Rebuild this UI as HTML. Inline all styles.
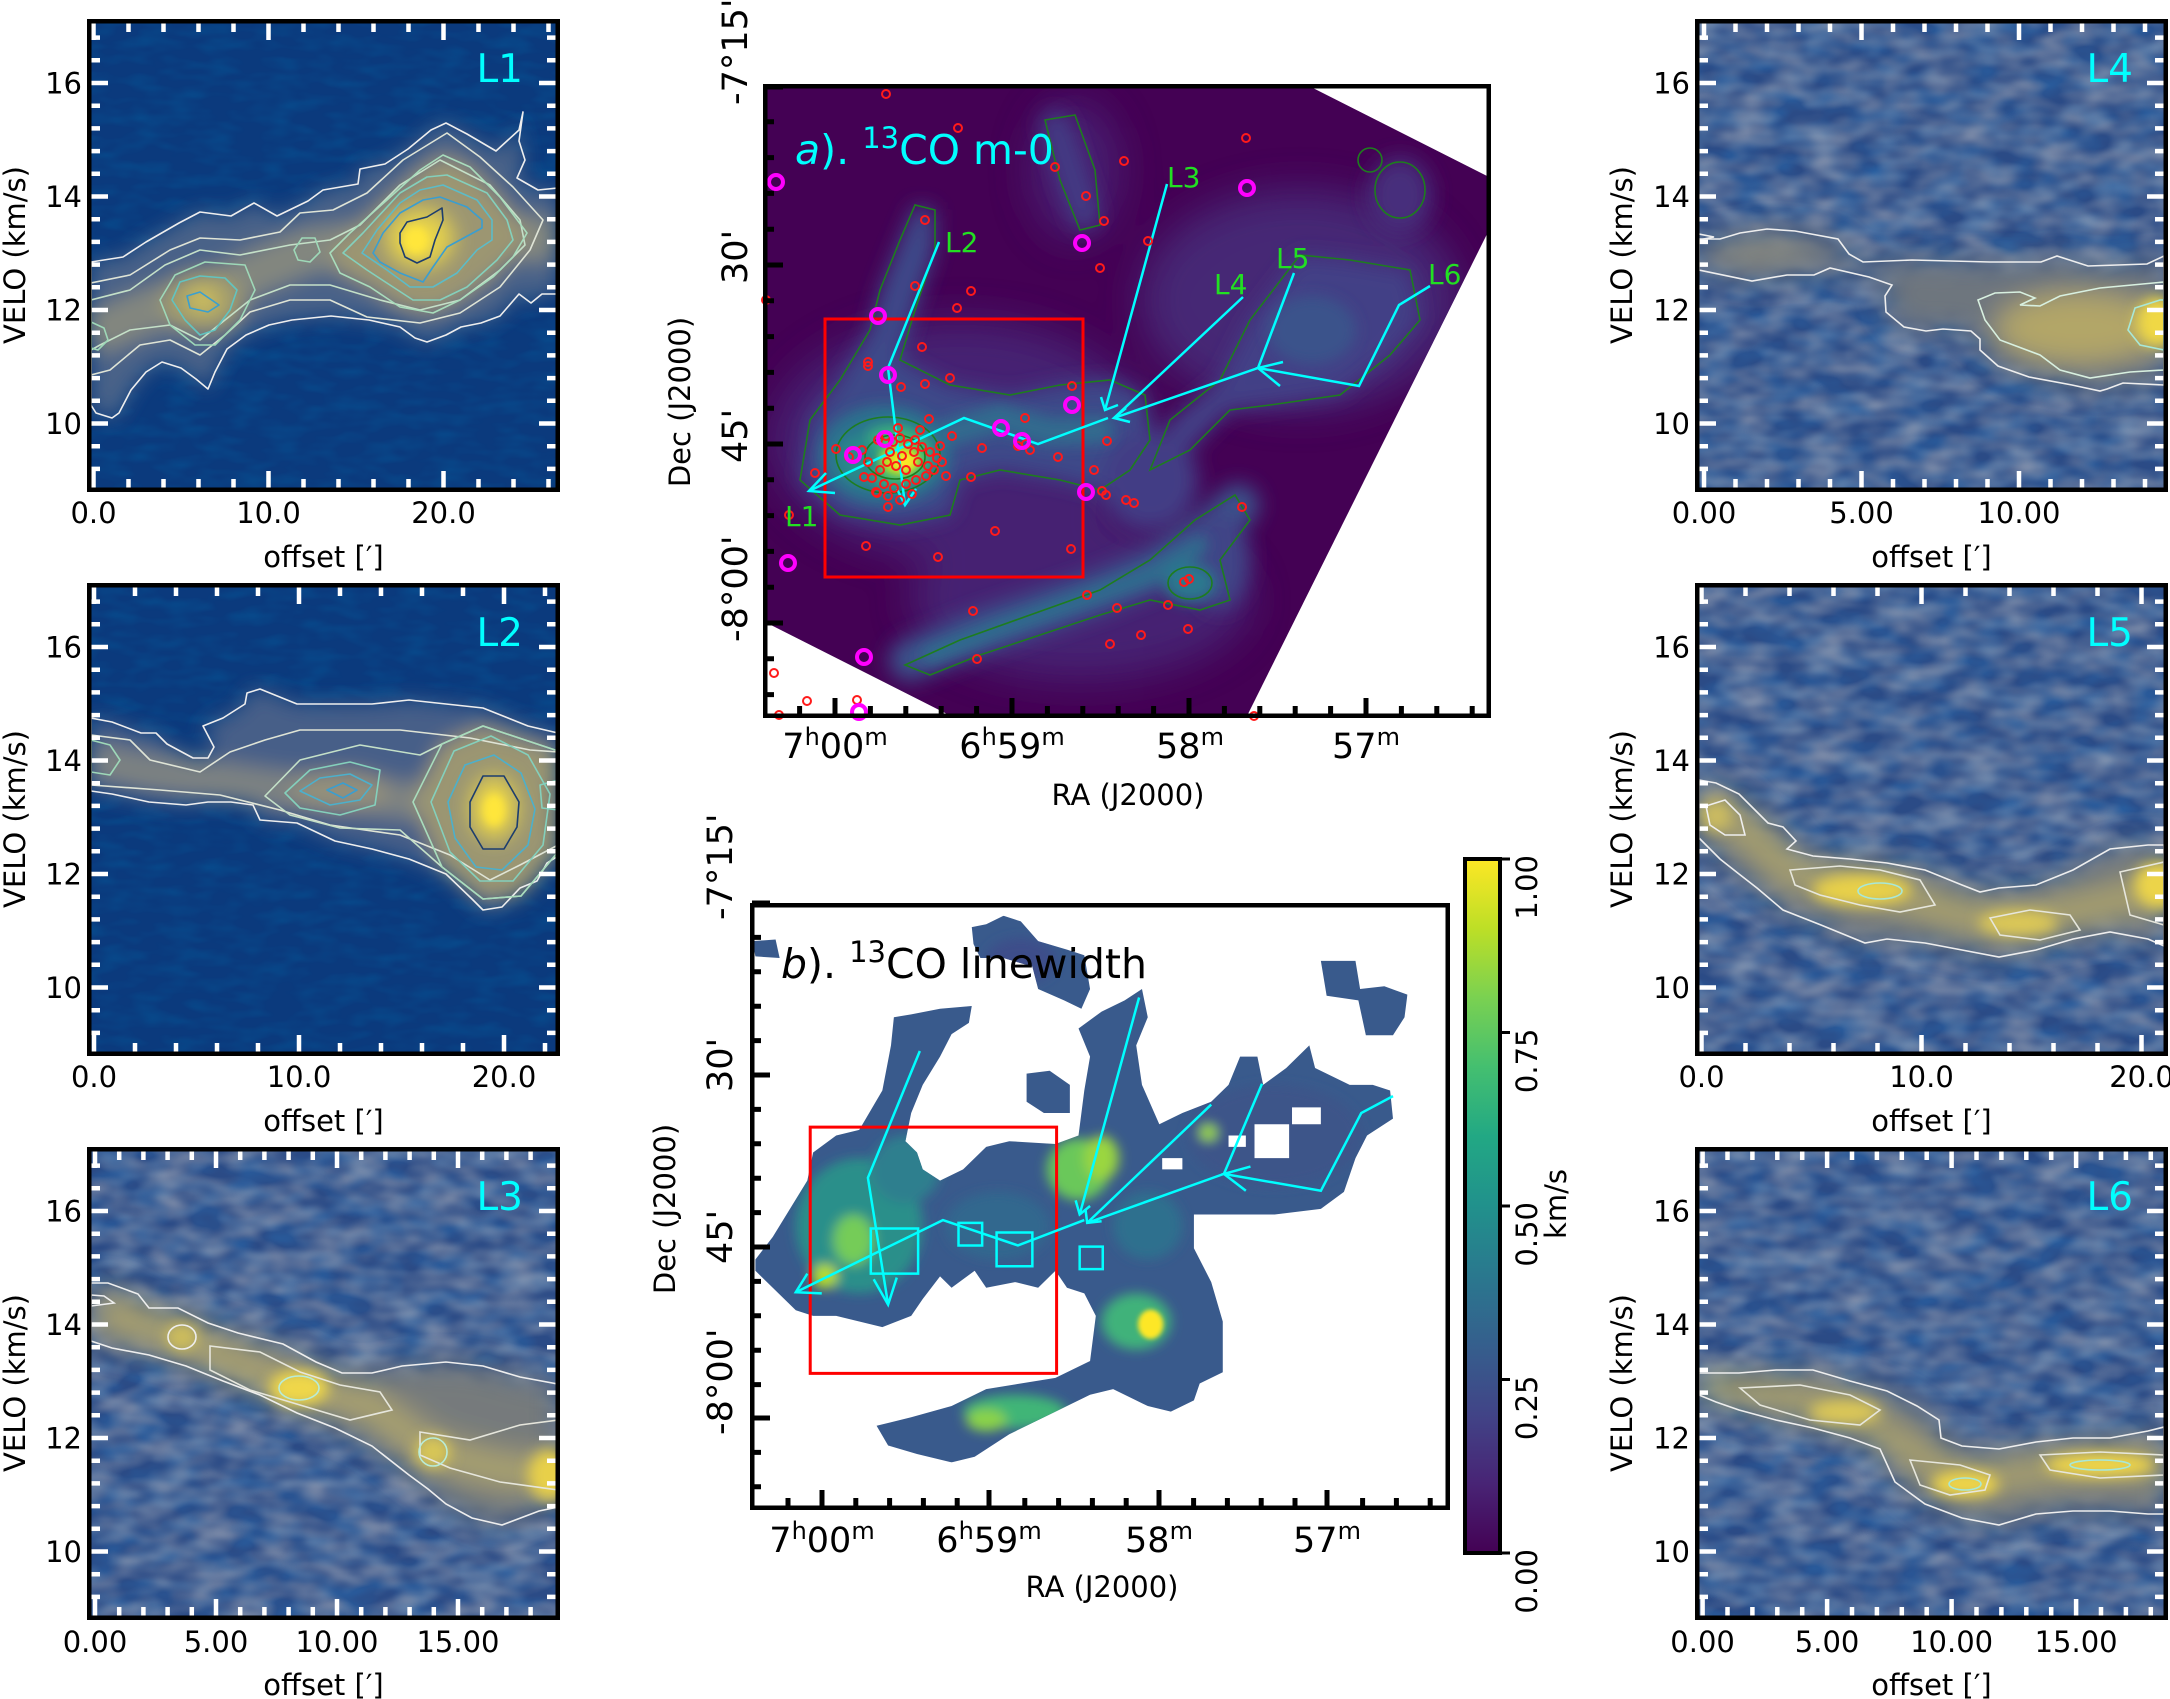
<!DOCTYPE html>
<html><head><meta charset="utf-8"><style>html,body{margin:0;padding:0;background:#fff}svg{display:block}</style></head>
<body>
<svg width="2170" height="1699" viewBox="0 0 2170 1699" xmlns="http://www.w3.org/2000/svg" xmlns:xlink="http://www.w3.org/1999/xlink" font-family="'DejaVu Sans','Liberation Sans',sans-serif">
<defs>
<filter id="bl4" x="-50%" y="-50%" width="200%" height="200%"><feGaussianBlur stdDeviation="4"/></filter>
<filter id="bl7" x="-50%" y="-50%" width="200%" height="200%"><feGaussianBlur stdDeviation="7"/></filter>
<filter id="bl10" x="-50%" y="-50%" width="200%" height="200%"><feGaussianBlur stdDeviation="10"/></filter>
<filter id="bl14" x="-50%" y="-50%" width="200%" height="200%"><feGaussianBlur stdDeviation="14"/></filter>
<filter id="bl20" x="-50%" y="-50%" width="200%" height="200%"><feGaussianBlur stdDeviation="20"/></filter>
<filter id="nz" x="0" y="0" width="1" height="1"><feTurbulence type="fractalNoise" baseFrequency="0.026 0.048" numOctaves="2" seed="7" result="t"/><feColorMatrix in="t" type="matrix" values="0 0 0 0 0.40  0 0 0 0 0.43  0 0 0 0 0.50  1.1 0 0 0 -0.33"/></filter>
<filter id="nzd" x="0" y="0" width="1" height="1"><feTurbulence type="fractalNoise" baseFrequency="0.03 0.055" numOctaves="2" seed="11" result="t"/><feColorMatrix in="t" type="matrix" values="0 0 0 0 0.02  0 0 0 0 0.14  0 0 0 0 0.42  1.1 0 0 0 -0.38"/></filter>
<filter id="nz2" x="0" y="0" width="1" height="1"><feTurbulence type="fractalNoise" baseFrequency="0.03 0.08" numOctaves="2" seed="3" result="t"/><feColorMatrix in="t" type="matrix" values="0 0 0 0 0.0  0 0 0 0 0.16  0 0 0 0 0.42  1.4 0 0 0 -0.55"/></filter>
<linearGradient id="vir" x1="0" y1="1" x2="0" y2="0">
<stop offset="0" stop-color="#440154"/><stop offset="0.1" stop-color="#482475"/><stop offset="0.2" stop-color="#414487"/><stop offset="0.3" stop-color="#355f8d"/><stop offset="0.4" stop-color="#2a788e"/><stop offset="0.5" stop-color="#21918c"/><stop offset="0.6" stop-color="#22a884"/><stop offset="0.7" stop-color="#44bf70"/><stop offset="0.8" stop-color="#7ad151"/><stop offset="0.9" stop-color="#bddf26"/><stop offset="1" stop-color="#fde725"/>
</linearGradient>
<clipPath id="c1"><rect x="91" y="23" width="465" height="465"/></clipPath>
<clipPath id="c2"><rect x="91" y="587" width="465" height="465"/></clipPath>
<clipPath id="c3"><rect x="91" y="1151" width="465" height="465"/></clipPath>
<clipPath id="c4"><rect x="1699" y="23" width="465" height="465"/></clipPath>
<clipPath id="c5"><rect x="1699" y="587" width="465" height="465"/></clipPath>
<clipPath id="c6"><rect x="1699" y="1151" width="465" height="465"/></clipPath>
<clipPath id="ca"><polygon points="763,84 1305,84 1491,178 1491,226 1246,718 955,718 763,621"/></clipPath>
<clipPath id="cbd">
<polygon points="200,780 230,740 260,690 290,640 300,590 340,560 380,550 420,480 435,400 440,350 470,345 520,335 575,330 570,360 540,380 520,420 490,470 470,520 460,570 480,590 490,620 520,640 560,620 600,580 640,570 720,575 760,560 770,480 780,420 760,370 800,340 840,320 870,300 880,350 860,400 870,470 900,540 940,520 990,500 1020,470 1040,420 1070,420 1080,470 1120,440 1160,400 1170,440 1230,470 1270,470 1300,480 1305,530 1260,560 1240,600 1220,660 1180,690 1100,700 1030,700 960,700 960,760 990,820 1010,890 1010,980 970,1000 960,1030 920,1050 880,1040 820,1010 780,1020 700,1060 640,1090 580,1130 540,1140 480,1125 430,1110 410,1075 470,1060 540,1040 600,1010 660,1000 720,990 780,960 790,880 770,840 740,830 720,800 690,830 650,820 600,830 580,800 540,830 520,810 490,850 470,880 420,900 380,890 340,880 300,880 270,870 230,830 200,800"/>
<polygon points="575,190 600,185 630,170 660,180 690,215 740,230 770,240 780,300 765,335 735,320 690,300 680,260 630,245 590,245 578,220"/>
<polygon points="670,450 710,445 745,470 745,520 700,520 670,500"/>
<polygon points="1180,250 1240,250 1248,300 1290,295 1330,310 1325,350 1305,382 1258,382 1245,320 1190,312"/>
<polygon points="195,215 235,212 242,245 200,242"/>
</clipPath>
<path id="ytk" d="M4 18.6h9M4 41.3h9M4 64h17M4 86.7h9M4 109.4h9M4 132.1h9M4 154.8h9M4 177.5h17M4 200.2h9M4 222.9h9M4 245.6h9M4 268.3h9M4 291h17M4 313.7h9M4 336.4h9M4 359.1h9M4 381.8h9M4 404.5h17M4 427.2h9M4 449.9h9M469 18.6h-9M469 41.3h-9M469 64h-17M469 86.7h-9M469 109.4h-9M469 132.1h-9M469 154.8h-9M469 177.5h-17M469 200.2h-9M469 222.9h-9M469 245.6h-9M469 268.3h-9M469 291h-17M469 313.7h-9M469 336.4h-9M469 359.1h-9M469 381.8h-9M469 404.5h-17M469 427.2h-9M469 449.9h-9" stroke="#fff" stroke-width="4.5" fill="none"/>
</defs>

<rect width="2170" height="1699" fill="#fff"/>

<!-- ================= L1 ================= -->
<g clip-path="url(#c1)">
<rect x="87" y="19" width="473" height="473" fill="#0b3a7d"/>
<rect x="87" y="19" width="473" height="473" filter="url(#nz2)" opacity="0.4"/>
<g filter="url(#bl10)">
<polygon points="91,262 123,257 146,242 179,223 200,212 231,216 254,203 277,216 308,201 323,190 358,184 360,169 385,164 408,149 431,130 446,123 467,134 496,151 519,130 523,112 519,141 525,160 517,178 538,190 558,188 558,294 542,294 531,303 519,294 500,316 481,323 461,327 446,335 427,342 415,338 400,327 369,320 331,316 292,320 269,325 246,335 227,349 215,372 208,389 196,379 181,368 162,362 146,372 131,390 119,413 112,418 96,413 91,405" fill="#4a6288"/>
<polyline points="91,335 150,310 200,300 260,270 310,250 360,245 420,240 480,235 556,240" fill="none" stroke="#83877f" stroke-width="44" stroke-linejoin="round"/>
<polygon points="330,253 350,233 387,200 420,170 443,155 470,167 500,197 527,233 513,257 493,277 460,300 433,313 400,307 370,287 340,273" fill="#9c9672"/>
<ellipse cx="203" cy="302" rx="40" ry="30" fill="#a39d6c"/>
</g>
<g filter="url(#bl10)">
<ellipse cx="420" cy="238" rx="34" ry="30" fill="#e6d24c"/>
<ellipse cx="203" cy="300" rx="16" ry="12" fill="#d6c45a"/>
</g>
<ellipse cx="416" cy="240" rx="13" ry="14" fill="#ffe63a" filter="url(#bl4)"/>
<g fill="none" stroke-width="1.6" stroke-linejoin="round">
<polygon points="91,262 123,257 146,242 179,223 200,212 231,216 254,203 277,216 308,201 323,190 358,184 360,169 385,164 408,149 431,130 446,123 467,134 496,151 519,130 523,112 519,141 525,160 517,178 538,190 558,188 558,294 542,294 531,303 519,294 500,316 481,323 461,327 446,335 427,342 415,338 400,327 369,320 331,316 292,320 269,325 246,335 227,349 215,372 208,389 196,379 181,368 162,362 146,372 131,390 119,413 112,418 96,413 91,405" stroke="#eeeeee"/>
<polygon points="91,283 130,275 170,250 200,238 240,240 280,232 300,213 333,210 367,193 403,160 447,133 480,157 513,187 543,220 530,250 500,287 460,313 420,323 367,317 330,300 290,300 250,312 225,335 200,355 170,340 140,345 110,370 91,375" stroke="#dfe4d6"/>
<polygon points="91,300 130,290 165,265 200,250 240,255 290,245 330,240 360,225 400,185 440,160 490,185 520,220 525,245 500,270 460,300 420,310 380,300 330,285 290,285 250,300 225,320 200,340 170,325 130,330 100,345 91,350" stroke="#c4e0c8"/>
<polygon points="330,253 350,233 387,200 420,170 443,155 470,167 500,197 527,233 513,257 493,277 460,300 433,313 400,307 370,287 340,273" stroke="#a8dcbc"/>
<polygon points="343,253 363,233 400,193 427,177 447,175 487,193 507,220 513,240 497,260 467,287 440,300 413,300 393,287 367,270" stroke="#84d0bc"/>
<polygon points="362,253 377,230 400,203 420,190 443,185 477,200 492,220 492,240 477,250 457,273 433,287 410,287 387,270" stroke="#5cbcc8"/>
<polygon points="373,253 383,233 400,213 423,200 440,197 467,207 482,220 482,228 460,240 447,247 433,267 423,282 400,273 380,262" stroke="#3a9ed0"/>
<polygon points="400,233 407,222 427,217 442,208 443,220 435,240 430,257 417,263 405,257 400,243" stroke="#1c3d6e"/>
<polygon points="160,300 175,275 205,262 245,265 255,290 240,320 215,345 195,345 170,325" stroke="#9ed8b8"/>
<polygon points="172,300 180,282 200,276 225,278 237,290 230,310 215,330 200,335 185,320" stroke="#62c4c0"/>
<polygon points="187,296 200,292 219,305 208,312 190,308" stroke="#3aa0d0"/>
<polygon points="294,250 302,238 315,238 320,252 310,262 298,260" stroke="#9ed8b8"/>
<polygon points="91,322 104,328 108,340 98,350 91,348" stroke="#9ed8b8"/>
</g>
</g>
<use xlink:href="#ytk" x="87" y="19"/>
<path transform="translate(87,19)" stroke="#fff" stroke-width="4.5" fill="none" d="M6.5 4v17M41.5 4v9M76.5 4v9M111.5 4v9M146.5 4v9M181.5 4v17M216.5 4v9M251.5 4v9M286.5 4v9M321.5 4v9M356.5 4v17M391.5 4v9M426.5 4v9M461.5 4v9M6.5 469v-17M41.5 469v-9M76.5 469v-9M111.5 469v-9M146.5 469v-9M181.5 469v-17M216.5 469v-9M251.5 469v-9M286.5 469v-9M321.5 469v-9M356.5 469v-17M391.5 469v-9M426.5 469v-9M461.5 469v-9"/>
<rect x="89.25" y="21.25" width="468.5" height="468.5" fill="none" stroke="#000" stroke-width="4.5"/>
<text x="523" y="82" text-anchor="end" font-size="39" fill="#00ffff">L1</text>

<!-- ================= L2 ================= -->
<g clip-path="url(#c2)">
<rect x="87" y="583" width="473" height="473" fill="#0b3a7d"/>
<rect x="87" y="583" width="473" height="473" filter="url(#nz2)" opacity="0.4"/>
<g filter="url(#bl10)">
<polygon points="91,718 112,722 141,733 156,733 167,744 193,758 208,758 214,747 203,726 223,718 245,704 247,693 260,689 297,704 335,704 372,704 409,700 446,704 483,708 528,726 558,733 558,856 547,863 537,881 520,888 502,907 483,910 472,899 446,874 409,859 372,849 335,841 297,823 260,820 253,805 231,802 208,802 186,805 149,802 112,794 91,791" fill="#475f88"/>
<polyline points="91,760 150,772 220,780 290,790 343,791 400,800 495,805 558,798" fill="none" stroke="#7d8282" stroke-width="36" stroke-linejoin="round"/>
<polygon points="413,802 442,744 483,726 558,751 558,852 521,896 483,899 442,867" fill="#9b9672"/>
<ellipse cx="340" cy="791" rx="50" ry="20" fill="#94917a"/>
</g>
<g filter="url(#bl10)">
<ellipse cx="494" cy="808" rx="24" ry="32" fill="#e6d24c"/>
</g>
<ellipse cx="494" cy="810" rx="11" ry="16" fill="#ffe63a" filter="url(#bl4)"/>
<g fill="none" stroke-width="1.6" stroke-linejoin="round">
<polygon points="91,718 112,722 141,733 156,733 167,744 193,758 208,758 214,747 203,726 223,718 245,704 247,693 260,689 297,704 335,704 372,704 409,700 446,704 483,708 528,726 558,733 558,856 547,863 537,881 520,888 502,907 483,910 472,899 446,874 409,859 372,849 335,841 297,823 260,820 253,805 231,802 208,802 186,805 149,802 112,794 91,791" stroke="#eeeeee"/>
<polygon points="91,735 130,740 150,760 200,772 230,752 265,740 300,730 400,730 470,738 530,750 558,752 558,845 520,865 490,880 450,855 400,835 330,825 280,810 220,795 160,790 91,785" stroke="#dfe4d6"/>
<polygon points="265,796 300,760 360,745 420,755 442,744 483,726 558,751 558,852 521,896 483,899 442,867 400,830 340,828 290,815" stroke="#c4e0c8"/>
<polygon points="413,802 442,744 483,726 558,751 558,852 521,896 483,899 442,867" stroke="#a8dcbc"/>
<polygon points="431,802 454,751 491,736 528,755 550,794 543,845 513,881 480,881 450,852" stroke="#84d0bc"/>
<polygon points="448,802 465,765 494,755 521,773 535,809 528,845 502,870 476,867 455,838" stroke="#4cb0cc"/>
<polygon points="470,802 483,776 504,776 519,802 517,827 504,849 483,849 470,827" stroke="#1c3d6e"/>
<polygon points="285,793 310,770 350,762 380,770 375,805 340,815 300,808" stroke="#84d0bc"/>
<polygon points="300,791 320,778 350,774 372,785 360,800 330,805" stroke="#4cb0cc"/>
<polygon points="327,790 343,783 357,790 343,798" stroke="#3a9ed0"/>
<polygon points="91,740 110,745 120,760 110,775 91,772" stroke="#9ed8b8"/>
<polygon points="540,785 558,780 558,810 542,808" stroke="#84d0bc"/>
</g>
</g>
<use xlink:href="#ytk" x="87" y="583"/>
<path transform="translate(87,583)" stroke="#fff" stroke-width="4.5" fill="none" d="M7 4v17M48 4v9M89 4v9M130 4v9M171 4v9M212 4v17M253 4v9M294 4v9M335 4v9M376 4v9M417 4v17M458 4v9M7 469v-17M48 469v-9M89 469v-9M130 469v-9M171 469v-9M212 469v-17M253 469v-9M294 469v-9M335 469v-9M376 469v-9M417 469v-17M458 469v-9"/>
<rect x="89.25" y="585.25" width="468.5" height="468.5" fill="none" stroke="#000" stroke-width="4.5"/>
<text x="523" y="646" text-anchor="end" font-size="39" fill="#00ffff">L2</text>

<!-- ================= L3 ================= -->
<g clip-path="url(#c3)">
<rect x="87" y="1147" width="473" height="473" fill="#2b4b86"/>
<rect x="87" y="1147" width="473" height="473" filter="url(#nzd)"/>
<rect x="87" y="1147" width="473" height="473" filter="url(#nz)"/>
<g filter="url(#bl14)">
<polygon points="91,1283 108,1283 138,1294 149,1308 178,1308 208,1323 238,1333 283,1344 316,1362 342,1373 372,1373 402,1366 446,1362 483,1366 520,1377 558,1384 558,1507 539,1511 502,1525 472,1518 446,1504 428,1489 409,1475 372,1446 335,1428 297,1413 260,1395 223,1381 186,1366 149,1355 112,1348 91,1341" fill="#767a7c"/>
<polyline points="100,1310 182,1337 250,1370 299,1388 364,1402 433,1452 500,1470 558,1475" fill="none" stroke="#aaa26e" stroke-width="34" stroke-linejoin="round"/>
</g>
<g filter="url(#bl7)">
<ellipse cx="299" cy="1388" rx="30" ry="18" fill="#efd748"/>
<ellipse cx="550" cy="1475" rx="22" ry="26" fill="#e8d048"/>
<ellipse cx="433" cy="1452" rx="18" ry="16" fill="#d8c656"/>
<ellipse cx="182" cy="1337" rx="16" ry="14" fill="#cdbd5c"/>
</g>
<g fill="none" stroke-width="1.6">
<polygon points="91,1283 108,1283 138,1294 149,1308 178,1308 208,1323 238,1333 283,1344 316,1362 342,1373 372,1373 402,1366 446,1362 483,1366 520,1377 558,1384 558,1507 539,1511 502,1525 472,1518 446,1504 428,1489 409,1475 372,1446 335,1428 297,1413 260,1395 223,1381 186,1366 149,1355 112,1348 91,1341" stroke="#eeeeee"/>
<polygon points="210,1346 260,1352 300,1372 340,1385 380,1392 392,1410 350,1420 300,1405 250,1390 210,1370" stroke="#e6e6dc"/>
<polygon points="420,1432 470,1440 520,1425 558,1420 558,1490 500,1482 450,1468 420,1455" stroke="#e6e6dc"/>
<ellipse cx="299" cy="1388" rx="20" ry="12" stroke="#b8ecd8"/>
<ellipse cx="182" cy="1337" rx="14" ry="12" stroke="#eeeeee"/>
<ellipse cx="433" cy="1452" rx="14" ry="14" stroke="#b8ecd8"/>
<polygon points="91,1295 104,1296 114,1303 91,1306" stroke="#eeeeee"/>
</g>
</g>
<use xlink:href="#ytk" x="87" y="1147"/>
<path transform="translate(87,1147)" stroke="#fff" stroke-width="4.5" fill="none" d="M8 4v17M32.2 4v9M56.4 4v9M80.6 4v9M104.8 4v9M129 4v17M153.2 4v9M177.4 4v9M201.6 4v9M225.8 4v9M250 4v17M274.2 4v9M298.4 4v9M322.6 4v9M346.8 4v9M371 4v17M395.2 4v9M419.4 4v9M443.6 4v9M8 469v-17M32.2 469v-9M56.4 469v-9M80.6 469v-9M104.8 469v-9M129 469v-17M153.2 469v-9M177.4 469v-9M201.6 469v-9M225.8 469v-9M250 469v-17M274.2 469v-9M298.4 469v-9M322.6 469v-9M346.8 469v-9M371 469v-17M395.2 469v-9M419.4 469v-9M443.6 469v-9"/>
<rect x="89.25" y="1149.25" width="468.5" height="468.5" fill="none" stroke="#000" stroke-width="4.5"/>
<text x="523" y="1210" text-anchor="end" font-size="39" fill="#00ffff">L3</text>

<!-- ================= L4 ================= -->
<g clip-path="url(#c4)">
<rect x="1695" y="19" width="473" height="473" fill="#2b4b86"/>
<rect x="1695" y="19" width="473" height="473" filter="url(#nzd)"/>
<rect x="1695" y="19" width="473" height="473" filter="url(#nz)"/>
<g filter="url(#bl14)">
<polygon points="1699,239 1720,239 1740,233 1767,229 1795,231 1838,239 1849,254 1863,262 1912,260 1990,262 2041,262 2057,256 2088,266 2147,264 2164,256 2164,385 2123,383 2107,389 2100,391 2072,385 2029,377 1998,366 1980,350 1980,339 1971,331 1943,329 1926,331 1904,327 1886,312 1885,296 1892,285 1869,277 1830,268 1814,275 1787,275 1752,281 1699,270" fill="#6e767e"/>
<ellipse cx="1763" cy="252" rx="50" ry="16" fill="#86877f"/>
<ellipse cx="2080" cy="328" rx="85" ry="36" fill="#b2a668"/>
</g>
<ellipse cx="2158" cy="322" rx="22" ry="26" fill="#f0d844" filter="url(#bl7)"/>
<g fill="none" stroke-width="1.6">
<polygon points="1699,239 1720,239 1740,233 1767,229 1795,231 1838,239 1849,254 1863,262 1912,260 1990,262 2041,262 2057,256 2088,266 2147,264 2164,256 2164,385 2123,383 2107,389 2100,391 2072,385 2029,377 1998,366 1980,350 1980,339 1971,331 1943,329 1926,331 1904,327 1886,312 1885,296 1892,285 1869,277 1830,268 1814,275 1787,275 1752,281 1699,270" stroke="#eeeeee"/>
<polygon points="1978,300 1995,293 2020,292 2035,298 2020,305 2040,306 2060,296 2100,288 2164,282 2164,370 2130,372 2090,378 2060,370 2040,355 2000,340 1985,320" stroke="#d8f0e0"/>
<polygon points="2135,308 2160,300 2164,300 2164,350 2140,345 2128,330" stroke="#a8e8d8"/>
<path d="M1699,234 L1714,237 L1699,240" stroke="#eeeeee"/>
</g>
</g>
<use xlink:href="#ytk" x="1695" y="19"/>
<path transform="translate(1695,19)" stroke="#fff" stroke-width="4.5" fill="none" d="M9 4v17M40.5 4v9M72 4v9M103.5 4v9M135 4v9M166.5 4v17M198 4v9M229.5 4v9M261 4v9M292.5 4v9M324 4v17M355.5 4v9M387 4v9M418.5 4v9M450 4v9M9 469v-17M40.5 469v-9M72 469v-9M103.5 469v-9M135 469v-9M166.5 469v-17M198 469v-9M229.5 469v-9M261 469v-9M292.5 469v-9M324 469v-17M355.5 469v-9M387 469v-9M418.5 469v-9M450 469v-9"/>
<rect x="1697.25" y="21.25" width="468.5" height="468.5" fill="none" stroke="#000" stroke-width="4.5"/>
<text x="2133" y="82" text-anchor="end" font-size="39" fill="#00ffff">L4</text>

<!-- ================= L5 ================= -->
<g clip-path="url(#c5)">
<rect x="1695" y="583" width="473" height="473" fill="#2b4b86"/>
<rect x="1695" y="583" width="473" height="473" filter="url(#nzd)"/>
<rect x="1695" y="583" width="473" height="473" filter="url(#nz)"/>
<g filter="url(#bl14)">
<polygon points="1699,780 1716,783 1739,794 1754,809 1768,823 1783,827 1796,841 1787,849 1813,856 1850,859 1887,863 1925,870 1962,885 1980,892 1999,888 2036,885 2073,870 2110,849 2148,845 2164,845 2164,946 2148,939 2110,932 2073,939 2036,950 1999,957 1962,950 1925,943 1887,939 1865,943 1821,925 1783,910 1757,888 1739,874 1720,859 1699,838" fill="#767a7c"/>
<polyline points="1700,805 1740,825 1790,872 1880,890 1960,915 2018,922 2100,905 2166,888" fill="none" stroke="#aaa26c" stroke-width="30" stroke-linejoin="round"/>
</g>
<g filter="url(#bl7)">
<ellipse cx="1862" cy="890" rx="50" ry="16" fill="#e8d04a"/>
<ellipse cx="2018" cy="923" rx="40" ry="13" fill="#dcc856"/>
<ellipse cx="2160" cy="885" rx="26" ry="24" fill="#ecd448"/>
<ellipse cx="1716" cy="816" rx="16" ry="16" fill="#cbbb60"/>
</g>
<g fill="none" stroke-width="1.6">
<polygon points="1699,780 1716,783 1739,794 1754,809 1768,823 1783,827 1796,841 1787,849 1813,856 1850,859 1887,863 1925,870 1962,885 1980,892 1999,888 2036,885 2073,870 2110,849 2148,845 2164,845 2164,946 2148,939 2110,932 2073,939 2036,950 1999,957 1962,950 1925,943 1887,939 1865,943 1821,925 1783,910 1757,888 1739,874 1720,859 1699,838" stroke="#eeeeee"/>
<polygon points="1790,870 1840,866 1880,870 1920,880 1935,905 1900,912 1860,905 1820,895 1795,885" stroke="#e6e6dc"/>
<polygon points="1990,918 2030,910 2070,915 2080,930 2040,940 2000,935" stroke="#e6e6dc"/>
<polygon points="2120,872 2164,862 2164,925 2130,915" stroke="#e6e6dc"/>
<polygon points="1706,806 1725,800 1740,815 1745,835 1725,835 1710,825" stroke="#eeeeee"/>
<ellipse cx="1880" cy="891" rx="22" ry="8" stroke="#a8e8d8"/>
</g>
</g>
<use xlink:href="#ytk" x="1695" y="583"/>
<path transform="translate(1695,583)" stroke="#fff" stroke-width="4.5" fill="none" d="M6.5 4v17M50.5 4v9M94.5 4v9M138.5 4v9M182.5 4v9M226.5 4v17M270.5 4v9M314.5 4v9M358.5 4v9M402.5 4v9M446.5 4v17M6.5 469v-17M50.5 469v-9M94.5 469v-9M138.5 469v-9M182.5 469v-9M226.5 469v-17M270.5 469v-9M314.5 469v-9M358.5 469v-9M402.5 469v-9M446.5 469v-17"/>
<rect x="1697.25" y="585.25" width="468.5" height="468.5" fill="none" stroke="#000" stroke-width="4.5"/>
<text x="2133" y="646" text-anchor="end" font-size="39" fill="#00ffff">L5</text>

<!-- ================= L6 ================= -->
<g clip-path="url(#c6)">
<rect x="1695" y="1147" width="473" height="473" fill="#2b4b86"/>
<rect x="1695" y="1147" width="473" height="473" filter="url(#nzd)"/>
<rect x="1695" y="1147" width="473" height="473" filter="url(#nz)"/>
<g filter="url(#bl14)">
<polygon points="1699,1373 1739,1373 1776,1370 1813,1370 1850,1381 1887,1391 1917,1406 1939,1420 1941,1438 1962,1446 1999,1449 2036,1442 2073,1438 2110,1438 2148,1431 2164,1427 2164,1514 2148,1514 2110,1511 2073,1511 2036,1514 1999,1525 1962,1518 1925,1504 1895,1482 1880,1449 1850,1438 1813,1428 1776,1420 1739,1410 1716,1402 1699,1395" fill="#767a7c"/>
<polyline points="1700,1385 1760,1393 1847,1410 1910,1450 1965,1483 2040,1470 2099,1465 2166,1466" fill="none" stroke="#aaa26c" stroke-width="28" stroke-linejoin="round"/>
</g>
<g filter="url(#bl7)">
<ellipse cx="1845" cy="1412" rx="36" ry="12" fill="#dcc856"/>
<ellipse cx="1965" cy="1484" rx="34" ry="13" fill="#f0d646"/>
<ellipse cx="2100" cy="1465" rx="55" ry="12" fill="#f0d646"/>
</g>
<g fill="none" stroke-width="1.6">
<polygon points="1699,1373 1739,1373 1776,1370 1813,1370 1850,1381 1887,1391 1917,1406 1939,1420 1941,1438 1962,1446 1999,1449 2036,1442 2073,1438 2110,1438 2148,1431 2164,1427 2164,1514 2148,1514 2110,1511 2073,1511 2036,1514 1999,1525 1962,1518 1925,1504 1895,1482 1880,1449 1850,1438 1813,1428 1776,1420 1739,1410 1716,1402 1699,1395" stroke="#eeeeee"/>
<polygon points="1740,1388 1800,1385 1850,1395 1880,1410 1860,1425 1810,1420 1760,1405" stroke="#e6e6dc"/>
<polygon points="1910,1460 1960,1465 1990,1475 1985,1490 1950,1495 1920,1485" stroke="#e6e6dc"/>
<polygon points="2040,1455 2100,1452 2164,1455 2164,1475 2100,1478 2050,1470" stroke="#e6e6dc"/>
<ellipse cx="1965" cy="1484" rx="16" ry="6" stroke="#a8e8d8"/>
<ellipse cx="2100" cy="1465" rx="30" ry="5" stroke="#a8e8d8"/>
</g>
</g>
<use xlink:href="#ytk" x="1695" y="1147"/>
<path transform="translate(1695,1147)" stroke="#fff" stroke-width="4.5" fill="none" d="M7.6 4v17M32.5 4v9M57.4 4v9M82.3 4v9M107.2 4v9M132.1 4v17M157 4v9M181.9 4v9M206.8 4v9M231.7 4v9M256.6 4v17M281.5 4v9M306.4 4v9M331.3 4v9M356.2 4v9M381.1 4v17M406 4v9M430.9 4v9M455.8 4v9M7.6 469v-17M32.5 469v-9M57.4 469v-9M82.3 469v-9M107.2 469v-9M132.1 469v-17M157 469v-9M181.9 469v-9M206.8 469v-9M231.7 469v-9M256.6 469v-17M281.5 469v-9M306.4 469v-9M331.3 469v-9M356.2 469v-9M381.1 469v-17M406 469v-9M430.9 469v-9M455.8 469v-9"/>
<rect x="1697.25" y="1149.25" width="468.5" height="468.5" fill="none" stroke="#000" stroke-width="4.5"/>
<text x="2133" y="1210" text-anchor="end" font-size="39" fill="#00ffff">L6</text>

<!-- PV axis text -->
<g font-size="29" fill="#000">
<g text-anchor="end">
<text x="82" y="93.5">16</text><text x="82" y="207">14</text><text x="82" y="320.5">12</text><text x="82" y="434">10</text>
<text x="82" y="657.5">16</text><text x="82" y="771">14</text><text x="82" y="884.5">12</text><text x="82" y="998">10</text>
<text x="82" y="1221.5">16</text><text x="82" y="1335">14</text><text x="82" y="1448.5">12</text><text x="82" y="1562">10</text>
<text x="1690" y="93.5">16</text><text x="1690" y="207">14</text><text x="1690" y="320.5">12</text><text x="1690" y="434">10</text>
<text x="1690" y="657.5">16</text><text x="1690" y="771">14</text><text x="1690" y="884.5">12</text><text x="1690" y="998">10</text>
<text x="1690" y="1221.5">16</text><text x="1690" y="1335">14</text><text x="1690" y="1448.5">12</text><text x="1690" y="1562">10</text>
</g>
<g text-anchor="middle">
<text x="93.5" y="523">0.0</text><text x="268.5" y="523">10.0</text><text x="443.5" y="523">20.0</text>
<text x="94" y="1087">0.0</text><text x="299" y="1087">10.0</text><text x="504" y="1087">20.0</text>
<text x="95" y="1652">0.00</text><text x="216" y="1652">5.00</text><text x="337" y="1652">10.00</text><text x="458" y="1652">15.00</text>
<text x="1704" y="523">0.00</text><text x="1861.5" y="523">5.00</text><text x="2019" y="523">10.00</text>
<text x="1701.5" y="1087">0.0</text><text x="1921.5" y="1087">10.0</text><text x="2141.5" y="1087">20.0</text>
<text x="1702.6" y="1652">0.00</text><text x="1827.1" y="1652">5.00</text><text x="1951.6" y="1652">10.00</text><text x="2076.1" y="1652">15.00</text>
<text x="323.5" y="567">offset [′]</text><text x="323.5" y="1131">offset [′]</text><text x="323.5" y="1695">offset [′]</text>
<text x="1931.5" y="567">offset [′]</text><text x="1931.5" y="1131">offset [′]</text><text x="1931.5" y="1695">offset [′]</text>
<text transform="translate(25,255) rotate(-90)">VELO (km/s)</text>
<text transform="translate(25,819) rotate(-90)">VELO (km/s)</text>
<text transform="translate(25,1383) rotate(-90)">VELO (km/s)</text>
<text transform="translate(1632,255) rotate(-90)">VELO (km/s)</text>
<text transform="translate(1632,819) rotate(-90)">VELO (km/s)</text>
<text transform="translate(1632,1383) rotate(-90)">VELO (km/s)</text>
</g>
</g>

<!-- ================= Panel a ================= -->
<g clip-path="url(#ca)">
<rect x="763" y="84" width="728" height="634" fill="#440154"/>
<g filter="url(#bl20)" opacity="0.8">
<ellipse cx="960" cy="440" rx="190" ry="120" fill="#472a7a"/>
<ellipse cx="1300" cy="300" rx="160" ry="110" fill="#46307e"/>
<ellipse cx="1080" cy="600" rx="170" ry="80" fill="#472a7a"/>
<ellipse cx="1075" cy="170" rx="45" ry="70" fill="#482878"/>
</g>
<g filter="url(#bl10)">
<polygon points="800,480 810,420 840,380 870,330 880,290 900,240 915,205 935,210 935,250 915,310 900,360 950,385 1010,395 1060,385 1110,380 1145,395 1150,440 1130,470 1100,490 1060,480 1000,470 960,480 950,515 900,525 840,515" fill="#3e4a89"/>
<polygon points="1150,470 1170,420 1220,380 1250,320 1300,255 1350,260 1410,270 1420,320 1390,355 1340,395 1270,405 1230,410 1190,450" fill="#424086"/>
<polyline points="910,660 980,632 1040,612 1100,592 1160,568 1200,540 1238,505" fill="none" stroke="#3b528b" stroke-width="42" stroke-linecap="round"/>
<polyline points="1055,125 1070,170 1085,215" fill="none" stroke="#433e85" stroke-width="28" stroke-linecap="round"/>
<ellipse cx="1400" cy="195" rx="32" ry="38" fill="#472d7b"/>
<ellipse cx="1150" cy="480" rx="48" ry="50" fill="#433e85"/>
<ellipse cx="1220" cy="560" rx="30" ry="50" fill="#414487"/>
</g>
<g filter="url(#bl7)">
<ellipse cx="885" cy="455" rx="66" ry="50" fill="#2c728e"/>
<polyline points="950,432 1000,418 1050,432 1100,430" fill="none" stroke="#306a8e" stroke-width="28" stroke-linecap="round"/>
<polyline points="930,655 1000,628 1080,600 1150,575 1200,545" fill="none" stroke="#2e6e8e" stroke-width="16" stroke-linecap="round"/>
<ellipse cx="1190" cy="583" rx="26" ry="20" fill="#2a788e"/>
<ellipse cx="893" cy="456" rx="38" ry="29" fill="#3dbc74"/>
<ellipse cx="1312" cy="330" rx="44" ry="34" fill="#3b528b"/>
<ellipse cx="860" cy="460" rx="22" ry="24" fill="#2a8a8a"/>
</g>
<g filter="url(#bl4)">
<ellipse cx="900" cy="460" rx="20" ry="15" fill="#c2df23"/>
<ellipse cx="905" cy="462" rx="11" ry="9" fill="#fde725"/>
</g>
<g fill="none" stroke="#1e7d1e" stroke-width="1.6">
<polygon points="800,480 810,420 840,380 870,330 880,290 900,240 915,205 935,210 935,250 915,310 900,360 950,385 1010,395 1060,385 1110,380 1145,395 1150,440 1130,470 1100,490 1060,480 1000,470 960,480 950,515 900,525 840,515"/>
<ellipse cx="888" cy="455" rx="52" ry="38"/>
<ellipse cx="895" cy="457" rx="30" ry="22"/>
<polygon points="905,665 960,640 1030,615 1100,590 1150,560 1195,520 1235,495 1250,520 1220,560 1230,600 1200,610 1150,600 1100,615 1040,635 980,655 930,675"/>
<polygon points="1150,470 1170,420 1220,380 1250,320 1300,255 1350,260 1410,270 1420,320 1390,355 1340,395 1270,405 1230,410 1190,450"/>
<polygon points="1045,120 1075,115 1095,170 1100,225 1080,230 1060,180"/>
<ellipse cx="1400" cy="190" rx="25" ry="28"/>
<ellipse cx="1190" cy="583" rx="22" ry="16"/>
<ellipse cx="1370" cy="160" rx="12" ry="12"/>
</g>
</g>
<!-- red rectangle a -->
<rect x="825" y="319" width="258" height="258" fill="none" stroke="#ff0000" stroke-width="3"/>
<!-- cyan lines a -->
<g fill="none" stroke="#00ffff" stroke-width="2.5">
<polyline points="1167,184 1105,410"/><polyline points="1101,397 1105,410 1118,405"/>
<polyline points="1243,297 1114,418"/>
<polyline points="1294,273 1258,368"/>
<polyline points="1430,286 1399,305 1359,386 1258,368 1114,418"/>
<polyline points="1283,362 1258,368 1280,386"/>
<polyline points="1126,408 1114,418 1130,422"/>
<polyline points="1108,418 1038,444 964,418 809,491"/>
<polyline points="826,473 809,491 835,493"/>
<polyline points="939,242 888,368 905,505"/>
<polyline points="897,489 905,505 916,489"/>
</g>
<!-- red circles a -->
<g fill="none" stroke="#ff1a1a" stroke-width="2">
<circle cx="886" cy="94" r="4"/><circle cx="958" cy="128" r="4"/><circle cx="1124" cy="161" r="4"/><circle cx="1246" cy="138" r="4"/><circle cx="1055" cy="167" r="4"/><circle cx="1086" cy="196" r="4"/><circle cx="1104" cy="221" r="4"/><circle cx="925" cy="220" r="4"/><circle cx="1148" cy="241" r="4"/><circle cx="1100" cy="268" r="4"/><circle cx="915" cy="286" r="4"/><circle cx="971" cy="291" r="4"/><circle cx="957" cy="308" r="4"/><circle cx="922" cy="347" r="4"/><circle cx="868" cy="362" r="4"/><circle cx="950" cy="378" r="4"/><circle cx="901" cy="387" r="4"/><circle cx="1072" cy="386" r="4"/><circle cx="1025" cy="418" r="4"/><circle cx="929" cy="419" r="4"/><circle cx="952" cy="436" r="4"/><circle cx="982" cy="448" r="4"/><circle cx="1058" cy="457" r="4"/><circle cx="1107" cy="441" r="4"/><circle cx="1094" cy="470" r="4"/><circle cx="971" cy="477" r="4"/><circle cx="836" cy="449" r="4"/><circle cx="849" cy="457" r="4"/><circle cx="815" cy="473" r="4"/><circle cx="864" cy="477" r="4"/><circle cx="877" cy="493" r="4"/><circle cx="888" cy="507" r="4"/><circle cx="1102" cy="491" r="4"/><circle cx="1106" cy="495" r="4"/><circle cx="1126" cy="500" r="4"/><circle cx="1134" cy="503" r="4"/><circle cx="1242" cy="507" r="4"/><circle cx="995" cy="531" r="4"/><circle cx="866" cy="546" r="4"/><circle cx="938" cy="557" r="4"/><circle cx="1071" cy="549" r="4"/><circle cx="1184" cy="582" r="4"/><circle cx="1189" cy="579" r="4"/><circle cx="1087" cy="595" r="4"/><circle cx="973" cy="611" r="4"/><circle cx="1117" cy="608" r="4"/><circle cx="1168" cy="605" r="4"/><circle cx="1188" cy="629" r="4"/><circle cx="1141" cy="635" r="4"/><circle cx="1110" cy="644" r="4"/><circle cx="977" cy="659" r="4"/><circle cx="774" cy="673" r="4"/><circle cx="807" cy="701" r="4"/><circle cx="857" cy="700" r="4"/><circle cx="779" cy="715" r="4"/><circle cx="1254" cy="716" r="4"/><circle cx="789" cy="515" r="4"/><circle cx="766" cy="300" r="4"/><circle cx="868" cy="366" r="4"/><circle cx="925" cy="384" r="4"/>
<circle cx="878" cy="440" r="4"/><circle cx="886" cy="436" r="4"/><circle cx="893" cy="442" r="4"/><circle cx="900" cy="438" r="4"/><circle cx="908" cy="444" r="4"/><circle cx="915" cy="440" r="4"/><circle cx="922" cy="447" r="4"/><circle cx="930" cy="452" r="4"/><circle cx="937" cy="458" r="4"/><circle cx="928" cy="466" r="4"/><circle cx="918" cy="462" r="4"/><circle cx="906" cy="470" r="4"/><circle cx="896" cy="466" r="4"/><circle cx="887" cy="462" r="4"/><circle cx="880" cy="470" r="4"/><circle cx="872" cy="478" r="4"/><circle cx="884" cy="484" r="4"/><circle cx="894" cy="488" r="4"/><circle cx="906" cy="484" r="4"/><circle cx="916" cy="480" r="4"/><circle cx="926" cy="476" r="4"/><circle cx="934" cy="470" r="4"/><circle cx="942" cy="462" r="4"/><circle cx="912" cy="494" r="4"/><circle cx="900" cy="500" r="4"/><circle cx="888" cy="496" r="4"/><circle cx="876" cy="492" r="4"/><circle cx="868" cy="462" r="4"/><circle cx="862" cy="450" r="4"/><circle cx="890" cy="452" r="4"/><circle cx="902" cy="456" r="4"/><circle cx="914" cy="452" r="4"/><circle cx="940" cy="446" r="4"/><circle cx="946" cy="476" r="4"/><circle cx="920" cy="430" r="4"/><circle cx="898" cy="428" r="4"/><circle cx="1018" cy="446" r="4"/><circle cx="1026" cy="444" r="4"/><circle cx="1030" cy="450" r="4"/>
</g>
<g fill="none" stroke="#ff00ff" stroke-width="4">
<circle cx="776" cy="182" r="7"/><circle cx="1247" cy="188" r="7"/><circle cx="1082" cy="243" r="7"/><circle cx="878" cy="316" r="7"/><circle cx="888" cy="375" r="7"/><circle cx="1072" cy="405" r="7"/><circle cx="885" cy="439" r="7"/><circle cx="853" cy="455" r="7"/><circle cx="1001" cy="428" r="7"/><circle cx="1022" cy="441" r="7"/><circle cx="1086" cy="492" r="7"/><circle cx="788" cy="563" r="7"/><circle cx="864" cy="657" r="7"/><circle cx="859" cy="712" r="7"/>
</g>
<!-- green labels a -->
<g font-size="28" fill="#22e022">
<text x="1167" y="187">L3</text><text x="945" y="252">L2</text><text x="1214" y="294">L4</text><text x="1276" y="268">L5</text><text x="1428" y="284">L6</text><text x="785" y="526">L1</text>
</g>
<text x="795" y="164" font-size="41" fill="#00ffff"><tspan font-style="italic">a</tspan>). <tspan font-size="29" dy="-16">13</tspan><tspan dy="16">CO m-0</tspan></text>
<!-- ticks a -->
<path stroke="#000" stroke-width="5" fill="none" d="M765 87h18M765 121.8h9M765 157.6h9M765 193.4h9M765 229.2h9M765 265h18M765 300.8h9M765 336.6h9M765 372.4h9M765 408.2h9M765 444h18M765 479.8h9M765 515.6h9M765 551.4h9M765 587.2h9M765 623h18M765 658.8h9M765 694.6h9M799.6 716v-10M835 716v-18M870.4 716v-10M905.8 716v-10M941.2 716v-10M976.6 716v-10M1012 716v-18M1047.4 716v-10M1082.8 716v-10M1118.2 716v-10M1153.6 716v-10M1189 716v-18M1224.4 716v-10M1259.8 716v-10M1295.2 716v-10M1330.6 716v-10M1366 716v-18M1401.4 716v-10M1436.8 716v-10M1472.2 716v-10"/>
<rect x="765.25" y="86.25" width="723.5" height="629.5" fill="none" stroke="#000" stroke-width="4.5"/>
<g font-size="35" fill="#000">
<text transform="translate(747,105) rotate(-90)">-7°15'</text>
<text transform="translate(747,284) rotate(-90)">30'</text>
<text transform="translate(747,463) rotate(-90)">45'</text>
<text transform="translate(747,642) rotate(-90)">-8°00'</text>
<g text-anchor="middle">
<text x="835" y="758">7<tspan font-size="24" dy="-13">h</tspan><tspan dy="13">00</tspan><tspan font-size="24" dy="-13">m</tspan></text>
<text x="1012" y="758">6<tspan font-size="24" dy="-13">h</tspan><tspan dy="13">59</tspan><tspan font-size="24" dy="-13">m</tspan></text>
<text x="1190" y="758">58<tspan font-size="24" dy="-13">m</tspan></text>
<text x="1366" y="758">57<tspan font-size="24" dy="-13">m</tspan></text>
</g>
</g>
<text x="1128" y="805" font-size="29" text-anchor="middle">RA (J2000)</text>
<text transform="translate(690,402) rotate(-90)" font-size="29" text-anchor="middle">Dec (J2000)</text>

<!-- ================= Panel b ================= -->
<g transform="translate(640,820) scale(0.577,0.5635)">
<g clip-path="url(#cbd)">
<rect x="150" y="150" width="1250" height="1050" fill="#395a8c"/>
<g filter="url(#bl10)">
<ellipse cx="380" cy="720" rx="110" ry="120" fill="#2a8f8a"/>
<ellipse cx="370" cy="745" rx="35" ry="45" fill="#74cc58"/>
<ellipse cx="320" cy="810" rx="22" ry="22" fill="#b5de2b"/>
<ellipse cx="460" cy="620" rx="60" ry="60" fill="#2f7f8e"/>
<ellipse cx="760" cy="620" rx="55" ry="55" fill="#6ac85a"/>
<ellipse cx="800" cy="600" rx="30" ry="40" fill="#9ad640"/>
<ellipse cx="860" cy="890" rx="60" ry="50" fill="#3fb27a"/>
<ellipse cx="650" cy="1050" rx="90" ry="30" fill="#41b577"/>
<ellipse cx="600" cy="1065" rx="35" ry="20" fill="#8ad348"/>
<ellipse cx="620" cy="720" rx="90" ry="60" fill="#31688e"/>
<ellipse cx="1100" cy="560" rx="150" ry="90" fill="#3c5489"/>
<ellipse cx="880" cy="720" rx="60" ry="60" fill="#2f6f8e"/>
<ellipse cx="985" cy="555" rx="15" ry="15" fill="#9ad640"/>
<ellipse cx="660" cy="250" rx="60" ry="40" fill="#3d4e8a"/>
</g>
<ellipse cx="885" cy="895" rx="22" ry="26" fill="#fde725" filter="url(#bl4)"/>
</g>
<g fill="#fff">
<polygon points="1065,540 1125,540 1125,600 1065,600"/>
<polygon points="1130,510 1180,510 1180,540 1130,540"/>
<polygon points="905,600 940,600 940,620 905,620"/>
<polygon points="1020,560 1050,560 1050,580 1020,580"/>
</g>
<polygon points="295,545 722,545 722,982 295,982" fill="none" stroke="#ff0000" stroke-width="3" vector-effect="non-scaling-stroke"/>
<g fill="none" stroke="#00ffff" stroke-width="2.5" vector-effect="non-scaling-stroke">
<polyline points="485,410 395,635 430,860" vector-effect="non-scaling-stroke"/>
<polyline points="405,815 430,860 445,812" vector-effect="non-scaling-stroke"/>
<polyline points="770,710 655,755 525,710 270,838" vector-effect="non-scaling-stroke"/>
<polyline points="290,805 270,838 315,840" vector-effect="non-scaling-stroke"/>
<polyline points="865,315 762,700" vector-effect="non-scaling-stroke"/>
<polyline points="755,675 762,700 780,685" vector-effect="non-scaling-stroke"/>
<polyline points="990,505 775,715" vector-effect="non-scaling-stroke"/>
<polyline points="772,690 775,715 800,712" vector-effect="non-scaling-stroke"/>
<polyline points="1078,468 1012,628" vector-effect="non-scaling-stroke"/>
<polyline points="1305,490 1250,520 1180,658 1012,628 775,715" vector-effect="non-scaling-stroke"/>
<polyline points="1058,615 1012,628 1050,658" vector-effect="non-scaling-stroke"/>
<rect x="400" y="725" width="82" height="80" vector-effect="non-scaling-stroke"/>
<rect x="552" y="715" width="41" height="40" vector-effect="non-scaling-stroke"/>
<rect x="618" y="732" width="62" height="60" vector-effect="non-scaling-stroke"/>
<rect x="762" y="757" width="40" height="40" vector-effect="non-scaling-stroke"/>
</g>
</g>
<path stroke="#000" stroke-width="5" fill="none" d="M752 903h18M752 937.4h9M752 971.8h9M752 1006.2h9M752 1040.6h9M752 1075h18M752 1109.4h9M752 1143.8h9M752 1178.2h9M752 1212.6h9M752 1247h18M752 1281.4h9M752 1315.8h9M752 1350.2h9M752 1384.6h9M752 1418h18M752 1452.4h9M752 1486.8h9M788 1508v-10M822 1508v-18M855.8 1508v-10M889.6 1508v-10M923.4 1508v-10M957.2 1508v-10M989 1508v-18M1024.8 1508v-10M1058.6 1508v-10M1092.4 1508v-10M1126.2 1508v-10M1159 1508v-18M1193.6 1508v-10M1227.4 1508v-10M1261.2 1508v-10M1295 1508v-10M1327 1508v-18M1362.6 1508v-10M1396.4 1508v-10M1430.2 1508v-10"/>
<rect x="752.25" y="905.25" width="695.5" height="602.5" fill="none" stroke="#000" stroke-width="4.5"/>
<text x="781" y="978" font-size="41" fill="#000"><tspan font-style="italic">b</tspan>). <tspan font-size="29" dy="-16">13</tspan><tspan dy="16">CO linewidth</tspan></text>
<g font-size="35" fill="#000">
<text transform="translate(732,920) rotate(-90)">-7°15'</text>
<text transform="translate(732,1092) rotate(-90)">30'</text>
<text transform="translate(732,1264) rotate(-90)">45'</text>
<text transform="translate(732,1435) rotate(-90)">-8°00'</text>
<g text-anchor="middle">
<text x="822" y="1552">7<tspan font-size="24" dy="-13">h</tspan><tspan dy="13">00</tspan><tspan font-size="24" dy="-13">m</tspan></text>
<text x="989" y="1552">6<tspan font-size="24" dy="-13">h</tspan><tspan dy="13">59</tspan><tspan font-size="24" dy="-13">m</tspan></text>
<text x="1159" y="1552">58<tspan font-size="24" dy="-13">m</tspan></text>
<text x="1327" y="1552">57<tspan font-size="24" dy="-13">m</tspan></text>
</g>
</g>
<text x="1102" y="1597" font-size="29" text-anchor="middle">RA (J2000)</text>
<text transform="translate(675,1209) rotate(-90)" font-size="29" text-anchor="middle">Dec (J2000)</text>

<!-- colorbar -->
<rect x="1465" y="859" width="35" height="694" fill="url(#vir)"/>
<rect x="1465" y="859" width="35" height="694" fill="none" stroke="#000" stroke-width="4"/>
<path stroke="#000" stroke-width="3" d="M1502 859h8M1502 1032.5h8M1502 1206h8M1502 1379.5h8M1502 1553h8"/>
<g font-size="29" fill="#000" text-anchor="end">
<text transform="translate(1537,855) rotate(-90)">1.00</text>
<text transform="translate(1537,1028.5) rotate(-90)">0.75</text>
<text transform="translate(1537,1202) rotate(-90)">0.50</text>
<text transform="translate(1537,1375.5) rotate(-90)">0.25</text>
<text transform="translate(1537,1549) rotate(-90)">0.00</text>
</g>
<text transform="translate(1566,1204) rotate(-90)" font-size="29" text-anchor="middle">km/s</text>
</svg>
</body></html>
